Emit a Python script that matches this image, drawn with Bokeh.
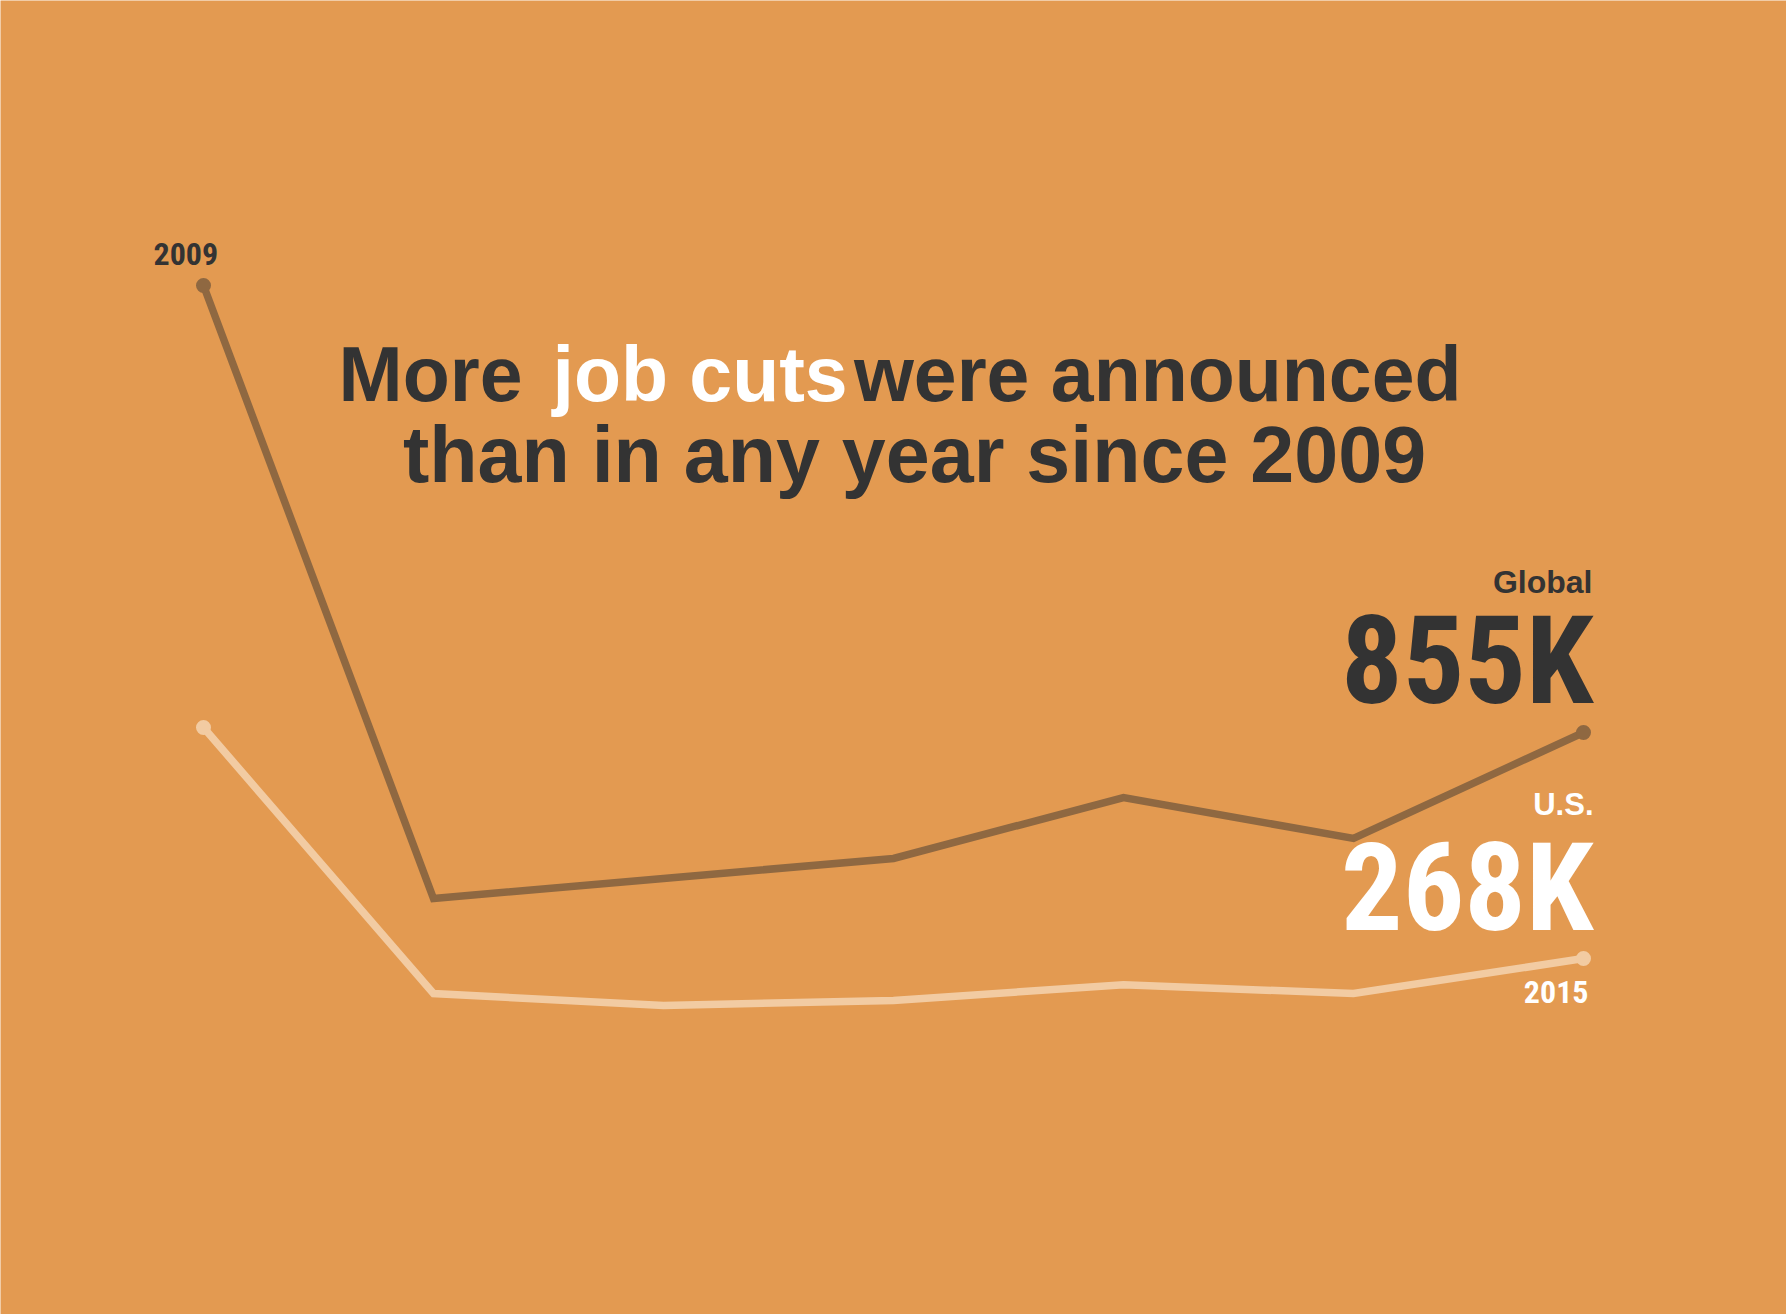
from bokeh.plotting import figure
from bokeh.models import Range1d, Label
from bokeh.embed import file_html
from bokeh.resources import INLINE

# ---------------- data (thousands of announced job cuts) ----------------
years = [2009, 2010, 2011, 2012, 2013, 2014, 2015]
global_cuts = [2016, 424, 476, 528, 686, 580, 855]
us_cuts = [868, 177, 146, 159, 200, 177, 268]
series_names = ["Global", "U.S."]
title_line1 = ["More ", "job cuts", "were announced"]
title_line2 = "than in any year since 2009"

# ---------------- style ----------------
W, H = 1786, 1314
MARGIN = 0
BG = "#E39A51"
DARK = "#333333"
WHITE = "#FFFFFF"
GLOBAL_COLOR = "#8F6841"
US_COLOR = "#F2CBA2"
TITLE_FONT = "Liberation Sans"
COND_FONT = "'Roboto Condensed', 'DejaVu Sans Condensed', sans-serif"

# screen calibration (page pixels)
X_FIRST = 203.0   # page x of first year
X_STEP = 230.0    # px per year
Y_ZERO = 1061.2   # page y of value 0
Y_SCALE = 0.385   # px per thousand

x0 = years[0] - (X_FIRST - MARGIN) / X_STEP
x1 = x0 + W / X_STEP
y1 = (Y_ZERO - MARGIN) / Y_SCALE
y0 = y1 - H / Y_SCALE

def dx(X):
    return x0 + (X - MARGIN) / X_STEP

def dy(Y):
    return (Y_ZERO - Y) / Y_SCALE

p = figure(width=W, height=H, x_range=Range1d(x0, x1), y_range=Range1d(y0, y1),
           output_backend="svg", toolbar_location=None, min_border=0,
           x_axis_type=None, y_axis_type=None,
           background_fill_color=BG, border_fill_color=BG, outline_line_color=None)
p.grid.visible = False

# lines
p.line(years, global_cuts, line_width=7.5, line_color=GLOBAL_COLOR, line_join="miter")
p.line(years, us_cuts, line_width=7.5, line_color=US_COLOR, line_join="miter")
p.scatter([years[0], years[-1]], [global_cuts[0], global_cuts[-1]], size=15,
          fill_color=GLOBAL_COLOR, line_color=None)
p.scatter([years[0], years[-1]], [us_cuts[0], us_cuts[-1]], size=15,
          fill_color=US_COLOR, line_color=None)

def lab(X, Yc, text, size, color, font, align="left", style="bold"):
    # Yc = vertical centre of the caps on the page
    p.add_layout(Label(x=dx(X), y=dy(Yc), text=text, text_align=align,
                       text_baseline="middle", text_font=font,
                       text_font_size=f"{size}px", text_font_style=style,
                       text_color=color))

# title
lab(338, 373, title_line1[0], 77, DARK, TITLE_FONT)
lab(552, 373, title_line1[1], 77, WHITE, TITLE_FONT)
lab(1461, 373, title_line1[2], 77, DARK, TITLE_FONT, align="right")
lab(914, 454, title_line2, 79, DARK, TITLE_FONT, align="center")

# year labels
lab(153, 253, str(years[0]), 32, DARK, COND_FONT)
lab(1588, 991, str(years[-1]), 32, WHITE, COND_FONT, align="right")

# series labels
lab(1592, 581, series_names[0], 32, DARK, TITLE_FONT, align="right")
lab(1593, 661, f"{global_cuts[-1]}K", 122, DARK, COND_FONT, align="right")
lab(1593, 804, series_names[1], 31, WHITE, TITLE_FONT, align="right")
lab(1593, 888, f"{us_cuts[-1]}K", 122, WHITE, COND_FONT, align="right")

open("out.html", "w").write(file_html(p, INLINE))
